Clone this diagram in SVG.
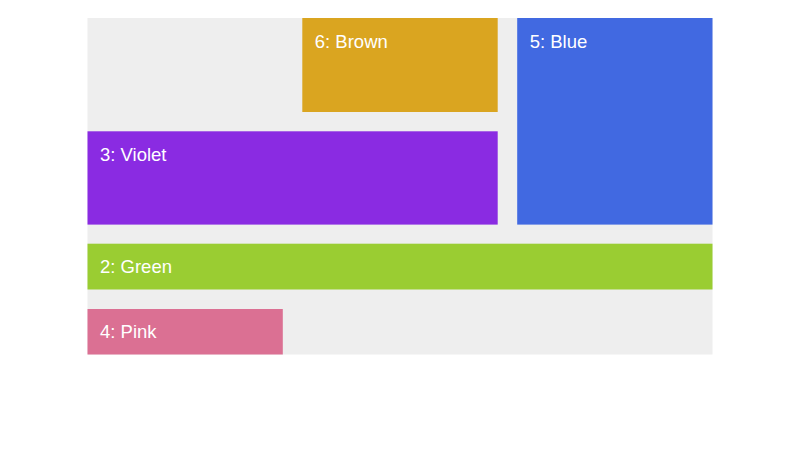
<svg xmlns="http://www.w3.org/2000/svg" width="800" height="450" viewBox="0 0 800 450">
<style>
.lbl{font-family:"Liberation Sans",Arial,sans-serif;font-size:18.5px;fill:#ffffff}
</style>
<rect width="800" height="450" fill="#ffffff"/>
<rect id="container" x="87.5" y="18" width="625" height="336.5" fill="#eeeeee"/>
<g id="n6"><rect x="302.3" y="18" width="195.4" height="94" fill="#daa520"/><text class="lbl" x="314.8" y="48">6: Brown</text></g>
<g id="n5"><rect x="517.2" y="18" width="195.3" height="206.6" fill="#4169e1"/><text class="lbl" x="529.7" y="48">5: Blue</text></g>
<g id="n3"><rect x="87.5" y="131.3" width="410.2" height="93.3" fill="#8a2be2"/><text class="lbl" x="100" y="160.7">3: Violet</text></g>
<g id="n2"><rect x="87.5" y="243.7" width="625" height="45.8" fill="#9acd32"/><text class="lbl" x="100" y="273">2: Green</text></g>
<g id="n4"><rect x="87.5" y="309" width="195.3" height="45.5" fill="#db7093"/><text class="lbl" x="100" y="338.3">4: Pink</text></g>
<g id="connectors"/>
</svg>
